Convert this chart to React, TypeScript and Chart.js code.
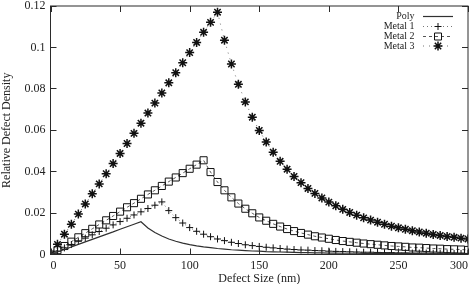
import React, { useEffect, useRef } from 'react';
import { Chart, registerables } from 'chart.js';

Chart.register(...registerables);

// ---- data ----
const defectSizes = [
  0, 5, 10, 15, 20, 25, 30, 35, 40, 45, 50, 55, 60, 65, 70, 75, 80, 85, 90, 95,
  100, 105, 110, 115, 120, 125, 130, 135, 140, 145, 150, 155, 160, 165, 170, 175, 180, 185, 190, 195,
  200, 205, 210, 215, 220, 225, 230, 235, 240, 245, 250, 255, 260, 265, 270, 275, 280, 285, 290, 295, 300,
];

const poly = [
  0, 0.0012, 0.0024, 0.0036, 0.0049, 0.0061, 0.0073, 0.0085, 0.0097, 0.0109, 0.0122, 0.0134, 0.0146, 0.0158,
  0.0128, 0.0106, 0.0089, 0.0075, 0.0064, 0.0055, 0.0048, 0.0042, 0.0037, 0.0033, 0.0029, 0.0026, 0.0023,
  0.0021, 0.0019, 0.0017, 0.0016, 0.0014, 0.0013, 0.0012, 0.0011, 0.001, 0.0009, 0.0009, 0.0008, 0.0008, 0.0007,
  0.0007, 0.0006, 0.0006, 0.0006, 0.0005, 0.0005, 0.0005, 0.0005, 0.0004, 0.0004, 0.0004, 0.0004, 0.0004,
  0.0003, 0.0003, 0.0003, 0.0003, 0.0003, 0.0003, 0.0003,
];

const metal1 = [
  0, 0.0016, 0.0032, 0.0048, 0.0064, 0.0079, 0.0095, 0.0111, 0.0127, 0.0143, 0.0159, 0.0175, 0.0191, 0.0206,
  0.0222, 0.0238, 0.0254,
  0.0212, 0.0178, 0.0152, 0.013, 0.0112, 0.0098, 0.0086, 0.0075, 0.0067, 0.0059, 0.0053, 0.0047, 0.0043,
  0.0039, 0.0035, 0.0032, 0.0029, 0.0026, 0.0024,
  0.0022, 0.0021, 0.0019, 0.0018, 0.0016, 0.0015, 0.0014, 0.0013, 0.0012, 0.0011, 0.0011, 0.001, 0.0009,
  0.0009, 0.0008, 0.0008, 0.0007, 0.0007, 0.0007, 0.0006, 0.0006, 0.0006, 0.0005, 0.0005, 0.0005,
];

const metal2 = [
  0, 0.0021, 0.0041, 0.0062, 0.0083, 0.0103, 0.0124, 0.0145, 0.0165, 0.0186, 0.0207, 0.0228, 0.0248, 0.0269,
  0.029, 0.031, 0.0331, 0.0352, 0.0372, 0.0393, 0.0414, 0.0434, 0.0455,
  0.0398, 0.035, 0.031, 0.0276, 0.0246, 0.0221, 0.0199, 0.0179, 0.0163, 0.0148,
  0.0135, 0.0123, 0.0113, 0.0104, 0.0096, 0.0088, 0.0082, 0.0076, 0.007, 0.0065,
  0.0061, 0.0057, 0.0053, 0.005, 0.0047, 0.0044, 0.0041, 0.0039, 0.0037, 0.0034,
  0.0033, 0.0031, 0.0029, 0.0028, 0.0026, 0.0025, 0.0024, 0.0022,
];

const metal3 = [
  0, 0.0049, 0.0098, 0.0146, 0.0195, 0.0244, 0.0293, 0.0341, 0.039, 0.0439, 0.0488, 0.0536, 0.0585, 0.0634,
  0.0683, 0.0731, 0.078, 0.0829, 0.0878, 0.0926, 0.0975, 0.1024, 0.1073, 0.1121, 0.117,
  0.1035, 0.092, 0.0822, 0.0737, 0.0663, 0.0599, 0.0543, 0.0494, 0.045, 0.0412, 0.0377, 0.0347,
  0.0319, 0.0295, 0.0273, 0.0253, 0.0235, 0.0218, 0.0203, 0.019, 0.0177, 0.0166, 0.0156, 0.0146,
  0.0137, 0.0129, 0.0122, 0.0115, 0.0109, 0.0103, 0.0097, 0.0092, 0.0087, 0.0083, 0.0079, 0.0075,
];

const seriesNames = ['Poly', 'Metal 1', 'Metal 2', 'Metal 3'];
const xTickValues = [0, 50, 100, 150, 200, 250, 300];
const yTickLabels = ['0', '0.02', '0.04', '0.06', '0.08', '0.1', '0.12'];
const xTitle = 'Defect Size (nm)';
const yTitle = 'Relative Defect Density';

const FONT = '"Liberation Serif", "Times New Roman", serif';
const INK = '#222222';

function toPoints(values: number[]) {
  return defectSizes.map((x, i) => ({ x, y: values[i] }));
}

function drawMarker(ctx: CanvasRenderingContext2D, style: string, x: number, y: number) {
  ctx.beginPath();
  if (style === 'cross') {
    const r = 3.5;
    ctx.moveTo(x - r, y); ctx.lineTo(x + r, y);
    ctx.moveTo(x, y - r); ctx.lineTo(x, y + r);
    ctx.lineWidth = 1;
  } else if (style === 'rect') {
    const s = 3.5;
    ctx.rect(x - s, y - s, 2 * s, 2 * s);
    ctx.lineWidth = 1;
  } else if (style === 'star') {
    const r = 4.5;
    const d = r * Math.SQRT1_2;
    ctx.moveTo(x - r, y); ctx.lineTo(x + r, y);
    ctx.moveTo(x, y - r); ctx.lineTo(x, y + r);
    ctx.moveTo(x - d, y - d); ctx.lineTo(x + d, y + d);
    ctx.moveTo(x - d, y + d); ctx.lineTo(x + d, y - d);
    ctx.lineWidth = 1.5;
  }
  ctx.strokeStyle = '#111';
  ctx.setLineDash([]);
  ctx.stroke();
}

const framePlugin = {
  id: 'gnuFrame',
  afterDatasetsDraw(chart: any) {
    const { ctx, chartArea } = chart;
    const { left, right, top, bottom } = chartArea;
    const xs = chart.scales.x;
    const ys = chart.scales.y;
    const t = 6;
    ctx.save();
    ctx.strokeStyle = '#2b2b2b';
    ctx.lineWidth = 1;
    ctx.setLineDash([]);
    ctx.strokeRect(left, top, right - left, bottom - top);
    ctx.beginPath();
    xs.ticks.forEach((tk: any) => {
      const px = Math.round(xs.getPixelForValue(tk.value)) + 0.5;
      ctx.moveTo(px, bottom); ctx.lineTo(px, bottom - t);
      ctx.moveTo(px, top); ctx.lineTo(px, top + t);
    });
    ys.ticks.forEach((tk: any) => {
      const py = Math.round(ys.getPixelForValue(tk.value) - 0.5) + 0.5;
      ctx.moveTo(left, py); ctx.lineTo(left + t, py);
      ctx.moveTo(right, py); ctx.lineTo(right - t, py);
    });
    ctx.stroke();
    ctx.restore();
  },
};

const legendPlugin = {
  id: 'gnuLegend',
  afterDraw(chart: any) {
    const { ctx, chartArea } = chart;
    const textRight = chartArea.right - 53.5;
    const x0 = chartArea.right - 45;
    const x1 = chartArea.right - 15;
    const xm = (x0 + x1) / 2;
    const rows = [chartArea.top + 10.5, chartArea.top + 20.5, chartArea.top + 30.5, chartArea.top + 40];
    ctx.save();
    ctx.font = '10px ' + FONT;
    ctx.fillStyle = INK;
    ctx.textAlign = 'right';
    ctx.textBaseline = 'middle';
    chart.data.datasets.forEach((ds: any, i: number) => {
      const y = rows[i];
      ctx.fillText(seriesNames[i], textRight, y);
      ctx.beginPath();
      ctx.moveTo(x0, y);
      ctx.lineTo(x1, y);
      ctx.strokeStyle = ds.borderColor;
      ctx.lineWidth = ds.borderWidth;
      ctx.setLineDash(ds.borderDash || []);
      ctx.stroke();
      if (ds.pointRadius > 0) drawMarker(ctx, ds.pointStyle, xm, y);
    });
    ctx.restore();
  },
};

export default function App() {
  const canvasRef = useRef<HTMLCanvasElement | null>(null);

  useEffect(() => {
    if (!canvasRef.current) return;
    const chart = new Chart(canvasRef.current, {
      type: 'line',
      data: {
        datasets: [
          {
            label: seriesNames[0],
            data: toPoints(poly),
            borderColor: '#303030',
            borderWidth: 1.2,
            pointRadius: 0,
            fill: false,
          },
          {
            label: seriesNames[1],
            data: toPoints(metal1),
            borderColor: '#777777',
            borderWidth: 1,
            borderDash: [1, 3],
            pointStyle: 'cross',
            pointRadius: 3.5,
            pointBorderWidth: 1,
            pointBorderColor: '#111',
            pointBackgroundColor: 'rgba(0,0,0,0)',
            fill: false,
          },
          {
            label: seriesNames[2],
            data: toPoints(metal2),
            borderColor: '#555555',
            borderWidth: 1,
            borderDash: [3, 3],
            pointStyle: 'rect',
            pointRadius: 5,
            pointBorderWidth: 1,
            pointBorderColor: '#111',
            pointBackgroundColor: 'rgba(0,0,0,0)',
            fill: false,
          },
          {
            label: seriesNames[3],
            data: toPoints(metal3),
            borderColor: '#777777',
            borderWidth: 1,
            borderDash: [1, 5],
            pointStyle: 'star',
            pointRadius: 4.5,
            pointBorderWidth: 1.5,
            pointBorderColor: '#111',
            pointBackgroundColor: 'rgba(0,0,0,0)',
            fill: false,
          },
        ],
      },
      options: {
        animation: false,
        responsive: false,
        events: [],
        layout: { padding: { top: 4.5, right: 2.5, left: 0, bottom: 0 } },
        plugins: { legend: { display: false }, tooltip: { enabled: false } },
        scales: {
          x: {
            type: 'linear',
            min: 0,
            max: 300,
            grid: { display: false, drawTicks: false },
            border: { display: false },
            afterBuildTicks: (scale: any) => {
              scale.ticks = xTickValues.map((v) => ({ value: v }));
            },
            ticks: {
              align: 'inner',
              padding: 4,
              color: INK,
              font: { family: FONT, size: 12 },
              maxRotation: 0,
              callback: (v: any) => String(v),
            },
            title: {
              display: true,
              text: xTitle,
              color: INK,
              font: { family: FONT, size: 12 },
              padding: { top: 0, bottom: -2 },
            },
            afterFit: (scale: any) => {
              scale.height = 29.5;
              scale.paddingLeft = 0;
              scale.paddingRight = 0;
            },
          },
          y: {
            type: 'linear',
            min: 0,
            max: 0.12,
            grid: { display: false, drawTicks: false },
            border: { display: false },
            ticks: {
              stepSize: 0.02,
              padding: 5,
              color: INK,
              font: { family: FONT, size: 12 },
              callback: (_v: any, i: number) => yTickLabels[i],
            },
            title: {
              display: true,
              text: yTitle,
              color: INK,
              font: { family: FONT, size: 12 },
              padding: { top: 0, bottom: 0 },
            },
            afterFit: (scale: any) => {
              scale.width = 50.5;
              scale.paddingTop = 0;
              scale.paddingBottom = 0;
            },
          },
        },
      },
      plugins: [framePlugin, legendPlugin],
    } as any);
    return () => chart.destroy();
  }, []);

  return (
    <div style={{ position: 'absolute', left: 0, top: 0, width: 474, height: 284, background: '#fff' }}>
      <canvas ref={canvasRef} width={474} height={284} style={{ width: 474, height: 284, display: 'block' }} />
    </div>
  );
}
